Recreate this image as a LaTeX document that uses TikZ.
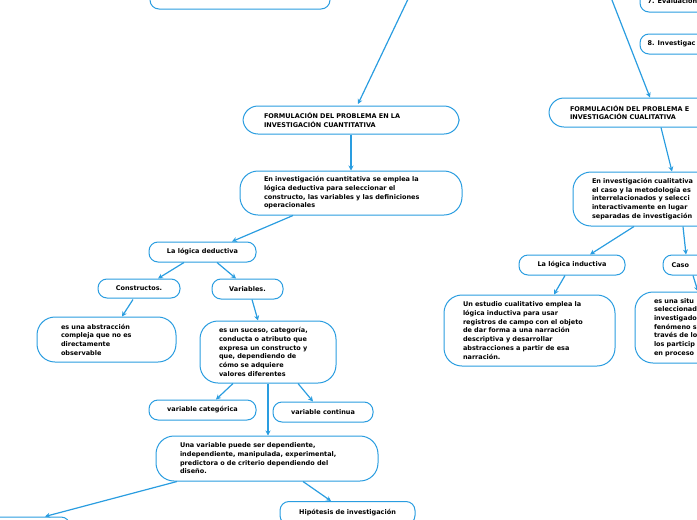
\documentclass[tikz,border=0pt]{standalone}
\usepackage{fontspec}
\setmainfont{DejaVu Sans}
\usetikzlibrary{arrows.meta}
\begin{document}
\definecolor{bl}{HTML}{2A9DE0}
\begin{tikzpicture}[x=1pt,y=-1pt,
  base/.style={draw=bl,line width=1pt,fill=white,inner ysep=0pt,font=\fontsize{6.5}{8.7}\selectfont\bfseries},
  pill/.style={base,rounded corners=9pt,align=center,inner xsep=0pt},
  big/.style={base,rounded corners=15pt,align=left},
  ar/.style={draw=bl,line width=1.2pt,-{Stealth[length=5pt,width=5pt]}}]
\useasboundingbox (0,0) rectangle (697,520);
\clip (0,0) rectangle (697,520);
\node[pill,minimum width=180pt,minimum height=26pt] (T0) at (240,-4) {};
\node[pill,minimum width=120pt,minimum height=22pt,align=left,text width=105pt,inner xsep=0pt] (T7) at (700,1) {\hspace*{0pt}7. Evaluación};
\node[pill,minimum width=120pt,minimum height=20pt,align=left,text width=105pt] (T8) at (700,44) {8. Investigac};
\node[big,minimum width=216pt,minimum height=28pt,text width=174pt,inner xsep=21pt] (A) at (351,120) {FORMULACIÓN DEL PROBLEMA EN LA\\INVESTIGACIÓN CUANTITATIVA};
\node[big,rounded corners=18pt,minimum width=222pt,minimum height=44pt,text width=174pt,inner xsep=24pt] (B) at (351,193) {En investigación cuantitativa se emplea la\\lógica deductiva para seleccionar el\\constructo, las variables y las definiciones\\operacionales};
\node[pill,minimum width=107pt,minimum height=20pt] (C) at (202.5,252) {La lógica deductiva};
\node[pill,minimum width=82pt,minimum height=19pt] (D) at (139,288.5) {Constructos.};
\node[pill,minimum width=71pt,minimum height=20pt] (E) at (247.5,289) {Variables.};
\node[big,rounded corners=18pt,minimum width=139pt,minimum height=45pt,text width=91pt,inner xsep=24pt] (F) at (106.5,339.5) {es una abstracción\\compleja que no es\\directamente\\observable};
\node[big,rounded corners=18pt,minimum width=136pt,minimum height=62pt,text width=104pt,inner xsep=16pt] (G) at (268,352) {\hspace*{3pt}es un suceso, categoría,\\\hspace*{3pt}conducta o atributo que\\\hspace*{3pt}expresa un constructo y\\\hspace*{3pt}que, dependiendo de\\\hspace*{3pt}cómo se adquiere\\\hspace*{3pt}valores diferentes};
\node[pill,minimum width=107pt,minimum height=20pt] (H) at (202.5,410) {variable categórica};
\node[pill,minimum width=100pt,minimum height=20pt] (I) at (323,412) {variable continua};
\node[big,rounded corners=18pt,minimum width=222pt,minimum height=45pt,text width=174pt,inner xsep=24pt] (J) at (267,458.5) {Una variable puede ser dependiente,\\independiente, manipulada, experimental,\\predictora o de criterio dependiendo del\\diseño.};
\node[pill,minimum width=135pt,minimum height=23pt] (K) at (347.5,513) {Hipótesis de investigación};
\node[pill,minimum width=90pt,minimum height=26pt] (L) at (25,530) {};
\node[big,minimum width=230pt,minimum height=29pt,text width=188pt,inner xsep=21pt] (M) at (664,112.5) {FORMULACIÓN DEL PROBLEMA E\\INVESTIGACIÓN CUALITATIVA};
\node[big,rounded corners=18pt,minimum width=230pt,minimum height=54pt,text width=192pt,inner xsep=19pt] (N) at (688,199) {En investigación cualitativa\\el caso y la metodología es\\interrelacionados y selecci\\interactivamente en lugar\\separadas de investigación};
\node[pill,minimum width=106pt,minimum height=20pt] (O) at (572,265) {La lógica inductiva};
\node[pill,minimum width=80pt,minimum height=20pt,align=left,text width=63pt,inner xsep=0pt] (P) at (703,265) {\hspace*{0pt}Caso};
\node[big,rounded corners=18pt,minimum width=171pt,minimum height=71pt,text width=133pt,inner xsep=19pt] (Q) at (529.5,330.5) {Un estudio cualitativo emplea la\\lógica inductiva para usar\\registros de campo con el objeto\\de dar forma a una narración\\descriptiva y desarrollar\\abstracciones a partir de esa\\narración.};
\node[big,rounded corners=18pt,minimum width=150pt,minimum height=71pt,text width=112pt,inner xsep=19pt] (R) at (710,327.5) {es una situ\\seleccionad\\investigado\\fenómeno s\\través de lo\\los particip\\en proceso};
\coordinate (s1) at (410,-5);
\coordinate (s2) at (610,-5);
\draw[ar] (s1) -- (358,104);
\draw[ar] (s2) -- (M.north -| 650,0);
\draw[ar] (A) -- (B);
\draw[ar] (293,215.5) -- (C.north -| 232,0);
\draw[ar] (184,262.5) -- (D.north -| 158,0);
\draw[ar] (217,262.5) -- (E.north -| 236,0);
\draw[ar] (133,299.5) -- (F.north -| 122,0);
\draw[ar] (252,299.5) -- (G.north -| 258,0);
\draw[ar] (233,383.5) -- (H.north -| 216,0);
\draw[ar] (298,383.5) -- (I.north -| 313,0);
\draw[ar] (268,383.5) -- (J.north -| 268,0);
\draw[ar] (177,481.5) -- (L.north -| 45,0);
\draw[ar] (303,481.5) -- (K.north -| 331,0);
\draw[ar] (661,127.5) -- (N.north -| 672,0);
\draw[ar] (634,226.5) -- (O.north -| 590,0);
\draw[ar] (683,226.5) -- (P.north -| 686,0);
\draw[ar] (565,275.5) -- (Q.north -| 554,0);
\draw[ar] (693,275.5) -- (R.north -| 698,0);
\end{tikzpicture}
\end{document}
